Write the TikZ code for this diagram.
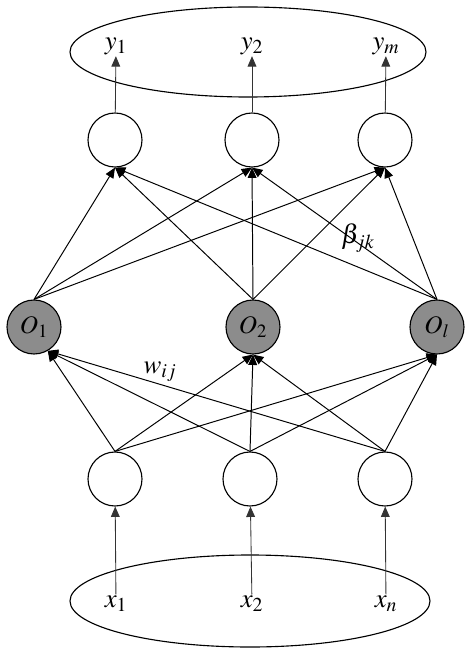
\documentclass[tikz,border=0pt]{standalone}
\usepackage{mathptmx}
\usepackage{tikz}
\usetikzlibrary{shapes.geometric, arrows.meta, positioning}

\begin{document}
\begin{tikzpicture}[
        neuron/.style={circle, draw, line width=0.8pt, minimum size=1.35cm, inner sep=0pt, fill=white},
        hidden/.style={neuron, fill=black!45, font=\fontsize{18}{20}\selectfont},
        layer/.style={ellipse, draw, line width=0.8pt},
        lbl/.style={inner sep=1pt, font=\fontsize{19}{21}\selectfont},
        arr/.style={-{Triangle[length=2.6mm, width=2.2mm]}, line width=0.7pt},
        io/.style={-{Triangle[length=2.6mm, width=2.2mm]}, line width=0.6pt, black!80},
    ]
        \useasboundingbox (0,0) rectangle (11.85,-16.375);

        % Output ellipse
        \node[layer, minimum width=8.9cm, minimum height=2.25cm] (outset) at (6.2,-1.3) {};
        \node[lbl] (y1) at (2.9,-1.15) {$y_1$};
        \node[lbl] (y2) at (6.3,-1.15) {$y_2$};
        \node[lbl] (ym) at (9.65,-1.15) {$y_m$};

        % Output layer
        \node[neuron] (out1) at (2.875,-3.5) {};
        \node[neuron] (out2) at (6.3,-3.5) {};
        \node[neuron] (out3) at (9.625,-3.5) {};

        % Hidden layer
        \node[hidden] (hid1) at (0.85,-8.175) {$O_1$};
        \node[hidden] (hid2) at (6.325,-8.175) {$O_2$};
        \node[hidden] (hid3) at (10.925,-8.175) {$O_l$};

        % Input layer
        \node[neuron] (in1) at (2.875,-11.975) {};
        \node[neuron] (in2) at (6.25,-11.975) {};
        \node[neuron] (in3) at (9.625,-11.975) {};

        % Input ellipse
        \node[layer, minimum width=9.0cm, minimum height=2.3cm] (inset) at (6.25,-15.025) {};
        \node[lbl] (x1) at (2.9,-15.1) {$x_1$};
        \node[lbl] (x2) at (6.3,-15.1) {$x_2$};
        \node[lbl] (xn) at (9.65,-15.1) {$x_n$};

        % Arrows
        \draw[io] (x1) -- (in1);
        \draw[io] (x2) -- (in2);
        \draw[io] (xn) -- (in3);
        \draw[arr] (in1.north) -- (hid1.-60);
        \draw[arr] (in1.north) -- (hid2.south);
        \draw[arr] (in1.north) -- (hid3.south);
        \draw[arr] (in2.north) -- (hid1.-60);
        \draw[arr] (in2.north) -- (hid2.south);
        \draw[arr] (in2.north) -- (hid3.south);
        \draw[arr] (in3.north) -- (hid1.-60);
        \draw[arr] (in3.north) -- (hid2.south);
        \draw[arr] (in3.north) -- (hid3.south);
        \draw[arr] (hid1.north) -- (out1.south);
        \draw[arr] (hid1.north) -- (out2.south);
        \draw[arr] (hid1.north) -- (out3.south);
        \draw[arr] (hid2.north) -- (out1.south);
        \draw[arr] (hid2.north) -- (out2.south);
        \draw[arr] (hid2.north) -- (out3.south);
        \draw[arr] (hid3.north) -- (out1.south);
        \draw[arr] (hid3.north) -- (out2.south);
        \draw[arr] (hid3.north) -- (out3.south);
        \draw[io] (out1) -- (y1);
        \draw[io] (out2) -- (y2);
        \draw[io] (out3) -- (ym);

        % Weights
        \node[lbl] (w) at (4.0,-9.3) {$w_{ij}$};
        \node[lbl] (beta) at (8.95,-5.95) {$\beta_{jk}$};
    \end{tikzpicture}
\end{document}
